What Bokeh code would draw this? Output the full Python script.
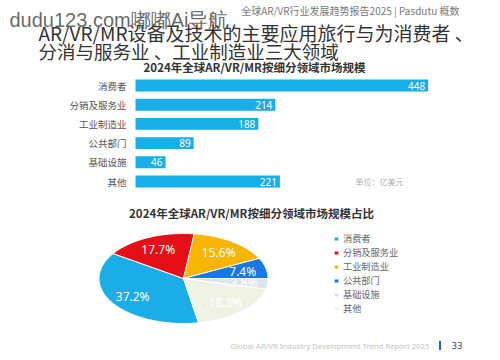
import numpy as np
from bokeh.plotting import figure
from bokeh.models import Range1d, ColumnDataSource, Label, Legend, LegendItem
from bokeh.layouts import column
from bokeh.embed import file_html
from bokeh.resources import INLINE
from bokeh.core.properties import value

# ---------------- data ----------------
categories = ["消费者", "分销及服务业", "工业制造业", "公共部门", "基础设施", "其他"]
market_size = [448, 214, 188, 89, 46, 221]          # 亿美元
share_pct = [37.2, 17.7, 15.6, 7.4, 3.8, 18.3]       # %
share_labels = ["37.2%", "17.7%", "15.6%", "7.4%", "3.8%", "18.3%"]

page_header = "全球AR/VR行业发展趋势报告2025 | Pasdutu 概数"
main_title_1 = "AR/VR/MR设备及技术的主要应用旅行与为消费者 、"
main_title_2 = "分消与服务业 、工业制造业三大领域"
watermark = "dudu123.com嘟嘟Ai导航"
bar_title = "2024年全球AR/VR/MR按细分领域市场规模"
pie_title = "2024年全球AR/VR/MR按细分领域市场规模占比"
unit_text = "单位：亿美元"
footer_text = "Global AR/VR Industry Development Trend Report 2025"
page_no = "33"

# ---------------- styles ----------------
CJK = "Noto Sans CJK SC"
BAR_COLOR = "#17AEEA"
PIE_COLORS = ["#1AADE8", "#E60F18", "#F7B500", "#1878E2", "#DCE3EC", "#EFF1E3"]
W = 484
START_DEG = 280.3
HDR_H = 76          # header panel: page y 0..76
BAR_BOTTOM = 192    # bar panel: page y 76..192, pie panel 192..352


def blank(h, xr, yr):
    p = figure(width=W, height=h, x_range=xr, y_range=yr,
               output_backend="svg", toolbar_location=None,
               x_axis_location=None, y_axis_location=None, min_border=0)
    p.grid.visible = False
    p.outline_line_color = None
    p.background_fill_color = "white"
    p.border_fill_color = "white"
    return p


# ---------------- header (page y 0..76) ----------------
hdr = blank(HDR_H, Range1d(0, W), Range1d(HDR_H, 0))
hdr.add_layout(Label(x=459, y=10, text=page_header, text_align="right", text_baseline="middle",
                     text_font=CJK, text_font_size="10px", text_color="#7a7a7a"))
hdr.add_layout(Label(x=38, y=32, text=main_title_1, text_baseline="middle",
                     text_font=CJK, text_font_size="19px", text_color="#333333"))
hdr.add_layout(Label(x=38, y=50, text=main_title_2, text_baseline="middle",
                     text_font=CJK, text_font_size="18.5px", text_color="#333333"))
hdr.add_layout(Label(x=9, y=19, text=watermark, text_baseline="middle",
                     text_font="Liberation Sans", text_font_size="20px",
                     text_color="#5a5a5a", text_alpha=0.92))
hdr.add_layout(Label(x=254, y=66, text=bar_title,
                     text_align="center", text_baseline="middle", text_font=CJK,
                     text_font_size="11.5px", text_font_style="bold", text_color="#333333"))

# ---------------- bar chart (page y 76..192) ----------------
X0_PAGE = 135.0
S = (427.7 - X0_PAGE) / 448.0       # px per unit
ROW = 19.2
ROW0_PAGE = 85.0
bar = blank(BAR_BOTTOM - HDR_H,
            Range1d(-X0_PAGE / S, (W - X0_PAGE) / S),
            Range1d((BAR_BOTTOM - ROW0_PAGE) / ROW, -(ROW0_PAGE - HDR_H) / ROW))
idx = list(range(len(categories)))
bsrc = ColumnDataSource(dict(y=idx, v=market_size, cat=categories,
                             lab=[str(v) for v in market_size]))
bar.hbar(y="y", left=0, right="v", height=0.62, source=bsrc,
         fill_color=BAR_COLOR, line_color=None)
bar.text(x="v", y="y", text="lab", source=bsrc, x_offset=-3,
         text_align="right", text_baseline="middle", text_color="white",
         text_font=value("Noto Sans"), text_font_size="10px")
bar.text(x=0, y="y", text="cat", source=bsrc, x_offset=-9,
         text_align="right", text_baseline="middle", text_color="#555555",
         text_font=value(CJK), text_font_size="9.5px")
bar.add_layout(Label(x=(355 - X0_PAGE) / S, y=len(categories) - 1, text=unit_text,
                     text_baseline="middle", text_font=CJK, text_font_size="8px",
                     text_color="#b0b0b0"))

# ---------------- pie chart (page y 192..352) ----------------
CX, CY, RX, RY = 183.0, 278.0, 84.5, 45.0
pie = blank(160,
            Range1d(-CX / RX, (W - CX) / RX),
            Range1d(-(352 - CY) / RY, (CY - BAR_BOTTOM) / RY))


def px(xp):
    return (xp - CX) / RX


def py(yp):
    return (CY - yp) / RY


fr = np.array(share_pct) / np.sum(share_pct)
cum = np.concatenate([[0.0], np.cumsum(fr)])
a0 = np.deg2rad(START_DEG)
xs, ys = [], []
for a, b in zip(cum[:-1], cum[1:]):
    t = a0 - 2 * np.pi * np.linspace(a, b, 80)
    xs.append(np.concatenate([[0.0], np.cos(t)]).tolist())
    ys.append(np.concatenate([[0.0], np.sin(t)]).tolist())
psrc = ColumnDataSource(dict(xs=xs, ys=ys, color=PIE_COLORS, cat=categories))
r = pie.patches("xs", "ys", source=psrc, fill_color="color", line_color="white", line_width=1)

mid = a0 - 2 * np.pi * (cum[:-1] + cum[1:]) / 2
pie.text(x=0.72 * np.cos(mid), y=0.72 * np.sin(mid), text=share_labels,
         text_align="center", text_baseline="middle", text_color="white",
         text_font=value("Noto Sans"), text_font_size="12px")

legend = Legend(items=[LegendItem(label=c, renderers=[r], index=i) for i, c in enumerate(categories)],
                location=(333, 37), orientation="vertical",
                glyph_width=6, glyph_height=5, label_standoff=4, label_height=13, spacing=0,
                padding=0, margin=0, border_line_color=None, background_fill_alpha=0,
                label_text_font=CJK, label_text_font_size="9.2px", label_text_color="#666666")
pie.add_layout(legend)

pie.add_layout(Label(x=px(251), y=py(212), text=pie_title, text_align="center",
                     text_baseline="middle", text_font=CJK, text_font_size="11.5px",
                     text_font_style="bold", text_color="#333333"))
pie.add_layout(Label(x=px(230), y=py(345), text=footer_text, text_baseline="middle",
                     text_font="Noto Sans", text_font_size="7.7px", text_color="#c4c4c4"))
pie.rect(x=px(439.5), y=py(345), width=2 / RX, height=9 / RY, fill_color="#1D5FD6", line_color=None)
pie.add_layout(Label(x=px(451), y=py(345), text=page_no, text_baseline="middle",
                     text_font="Noto Sans", text_font_size="9.5px", text_color="#444444"))

layout = column(hdr, bar, pie, spacing=0)
open("out.html", "w").write(file_html(layout, INLINE))
